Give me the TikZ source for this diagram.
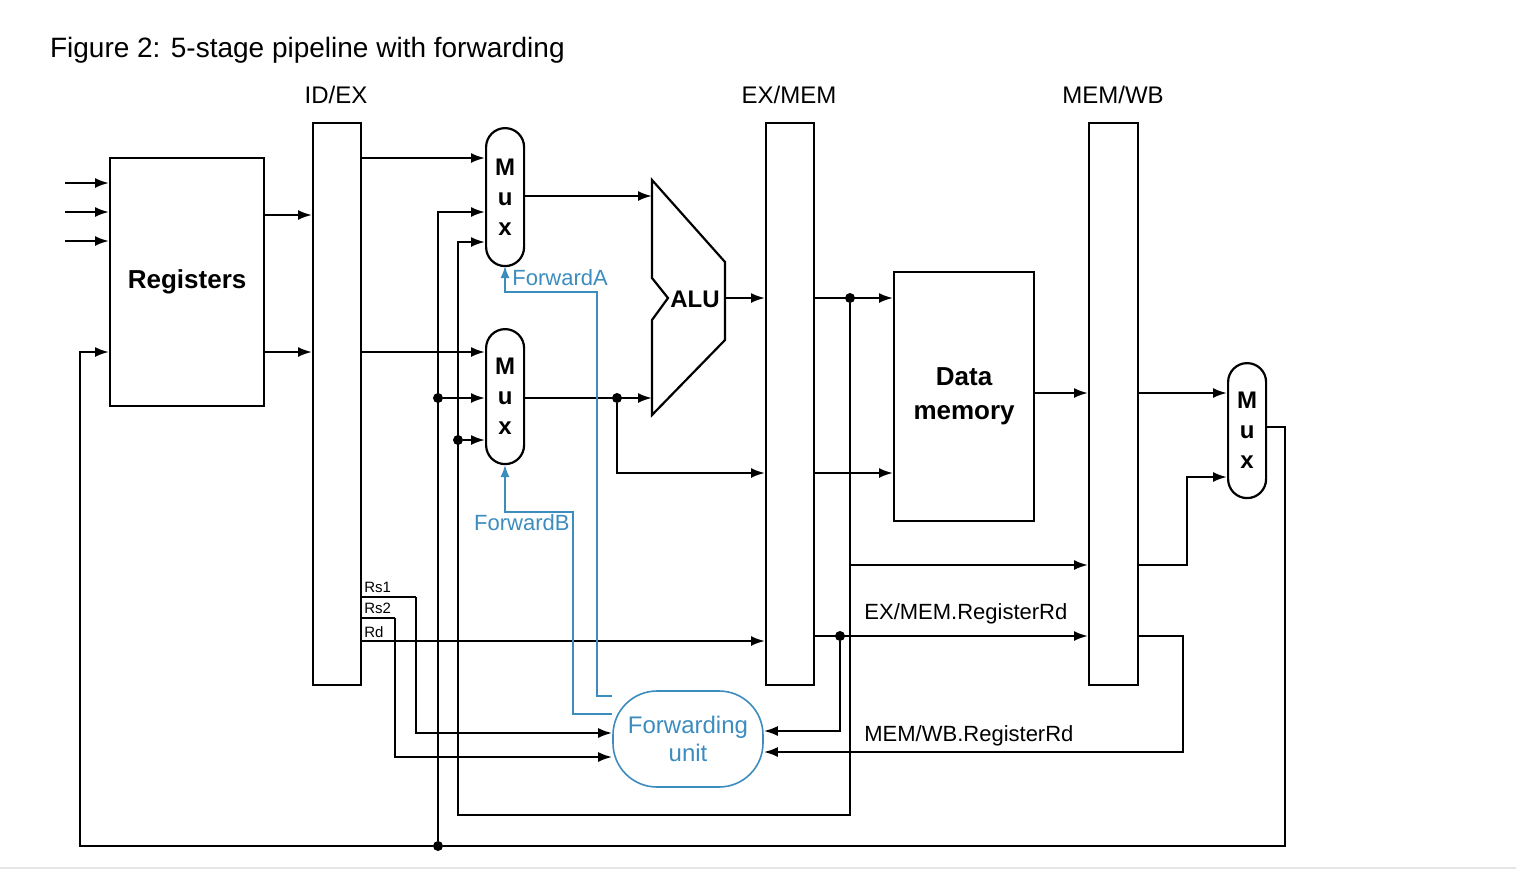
\documentclass[tikz,border=0pt]{standalone}
\usepackage{fontspec}
\setmainfont{Liberation Sans}
\usetikzlibrary{arrows.meta}
\definecolor{fwd}{RGB}{60,140,190}
\begin{document}
\begin{tikzpicture}[x=0.5pt,y=-0.5pt,
  w/.style={line width=1.1pt},
  a/.style={w,-{Latex[length=7pt,width=5pt]}},
  ba/.style={line width=0.8pt,fwd,-{Latex[length=6pt,width=4.5pt]}},
  box/.style={draw,w,anchor=north west,inner sep=0pt},
  mux/.style={draw,w,anchor=north west,inner sep=0pt,minimum width=19pt,rounded corners=9.5pt,align=center,font=\bfseries\fontsize{12}{15}\selectfont},
  dot/.style={circle,fill,inner sep=0pt,minimum size=5pt},
  lbl/.style={font=\fontsize{11}{12}\selectfont}]
\useasboundingbox (0,0) rectangle (1516,890);
\draw[gray!20,line width=1pt] (0,868) -- (1516,868);
\node[anchor=west,font=\fontsize{14}{16}\selectfont] (title) at (43,50) {Figure 2: 5-stage pipeline with forwarding};
\node[box,minimum width=77pt,minimum height=124pt,font=\bfseries\fontsize{13}{15}\selectfont] (reg) at (109,157) {Registers};
\node[box,minimum width=24pt,minimum height=281pt] (idex) at (312,122) {};
\node[box,minimum width=24pt,minimum height=281pt] (exmem) at (765,122) {};
\node[box,minimum width=24.5pt,minimum height=281pt] (memwb) at (1088,122) {};
\node[lbl,font=\fontsize{12}{13}\selectfont] (l1) at (336,95) {ID/EX};
\node[lbl,font=\fontsize{12}{13}\selectfont] (l2) at (789,95) {EX/MEM};
\node[lbl,font=\fontsize{12}{13}\selectfont] (l3) at (1113,95) {MEM/WB};
\node[mux,minimum height=69pt] (ma) at (485,127) {M\\u\\x};
\node[mux,minimum height=67.5pt] (mb) at (485,328) {M\\u\\x};
\node[mux,minimum height=67.5pt] (mw) at (1227,362) {M\\u\\x};
\node[box,minimum width=70pt,minimum height=124.5pt,align=center,font=\bfseries\fontsize{13}{17}\selectfont] (dm) at (893,271) {Data\\memory};
\draw[w] (652,180) -- (725,262) -- (725,340) -- (652,415) -- (652,320) -- (668,298) -- (652,278) -- cycle;
\node[font=\bfseries\fontsize{12}{13}\selectfont] (alu) at (695,299) {ALU};
\coordinate (aluo) at (725,298);
\node[draw=fwd,line width=0.8pt,rounded corners=22pt,minimum width=75pt,minimum height=48pt,align=center,text=fwd,font=\fontsize{12}{14}\selectfont,inner sep=0pt] (fu) at (688,739) {Forwarding\\unit};
% register inputs
\foreach \y/\n in {183/i1,212/i2,241/i3,352/i4} \coordinate (\n) at (65,\y);
\draw[a] (i1) -- (reg.west |- i1);
\draw[a] (i2) -- (reg.west |- i2);
\draw[a] (i3) -- (reg.west |- i3);
\draw[a] (reg.east |- 0,215) -- (idex.west |- 0,215);
\draw[a] (reg.east |- 0,352) -- (idex.west |- 0,352);
\draw[a] (idex.east |- 0,158) -- (ma.west |- 0,158);
\draw[a] (idex.east |- 0,352) -- (mb.west |- 0,352);
\draw[a] (ma.east |- 0,196) -- (652,196);
\draw[a] (mb.east |- 0,398) -- (652,398);
\draw[a] (aluo) -- (exmem.west |- aluo);
\draw[a] (exmem.east |- aluo) -- (dm.west |- aluo);
\node[dot] (d1) at (850,298) {};
\node[dot] (d2) at (617,398) {};
\draw[a] (d2) |- (exmem.west |- 0,473);
\draw[a] (exmem.east |- 0,473) -- (dm.west |- 0,473);
\draw[a] (dm.east |- 0,393) -- (memwb.west |- 0,393);
\draw[a] (memwb.east |- 0,393) -- (mw.west |- 0,393);
\draw[a] (d1) |- (memwb.west |- 0,565);
\draw[a] (memwb.east |- 0,565) -| (1187,477) -- (mw.west |- 0,477);
% feedback wires
\node[dot] (d3) at (438,846) {};
\node[dot] (d4) at (438,398) {};
\node[dot] (d5) at (458,440) {};
\draw[w] (mw.east |- 0,427) -- (1285,427) |- (d3);
\draw[a] (d3) -- (80,846) |- (reg.west |- 0,352);
\draw[a] (d3) |- (ma.west |- 0,212);
\draw[a] (d4) -- (mb.west |- d4);
\draw[a] (d1) |- (458,815) |- (ma.west |- 0,242);
\draw[a] (d5) -- (mb.west |- d5);
% Rs/Rd
\node[anchor=south west,inner sep=1pt,font=\fontsize{7.5}{8}\selectfont] (rs1) at (362,595) {Rs1};
\node[anchor=south west,inner sep=1pt,font=\fontsize{7.5}{8}\selectfont] (rs2) at (362,616) {Rs2};
\node[anchor=south west,inner sep=1pt,font=\fontsize{7.5}{8}\selectfont] (rd) at (362,640) {Rd};
\draw[line width=0.8pt] (idex.east |- 0,597) -- (416,597);
\draw[line width=0.8pt] (idex.east |- 0,618) -- (395,618);
\draw[a] (416,597) |- (fu.west |- 0,733);
\draw[a] (395,618) |- (fu.west |- 0,757);
\draw[a] (idex.east |- 0,641) -- (exmem.west |- 0,641);
\node[dot] (d6) at (840,636) {};
\draw[a] (exmem.east |- 0,636) -- (memwb.west |- 0,636);
\node[lbl,anchor=south west,inner sep=1pt] (emrd) at (862,626) {EX/MEM.RegisterRd};
\draw[a] (d6) |- (fu.east |- 0,731);
\draw[a] (memwb.east |- 0,636) -| (1183,752) -- (fu.east |- 0,752);
\node[lbl,anchor=south west,inner sep=1pt] (mwrd) at (862,748) {MEM/WB.RegisterRd};
% forwarding controls
\draw[ba] (fu.north west |- 0,696) -- (597,696) -- (597,292) -- (505,292) -- (505,266);
\node[anchor=west,text=fwd,inner sep=1pt,font=\fontsize{11}{12}\selectfont] (fa) at (510,278) {ForwardA};
\draw[ba] (fu.west |- 0,714) -- (573,714) -- (573,512) -- (505,512) -- (505,465);
\node[anchor=north east,text=fwd,inner sep=1pt,font=\fontsize{11}{12}\selectfont] (fb) at (572,512) {ForwardB};
\end{tikzpicture}
\end{document}
